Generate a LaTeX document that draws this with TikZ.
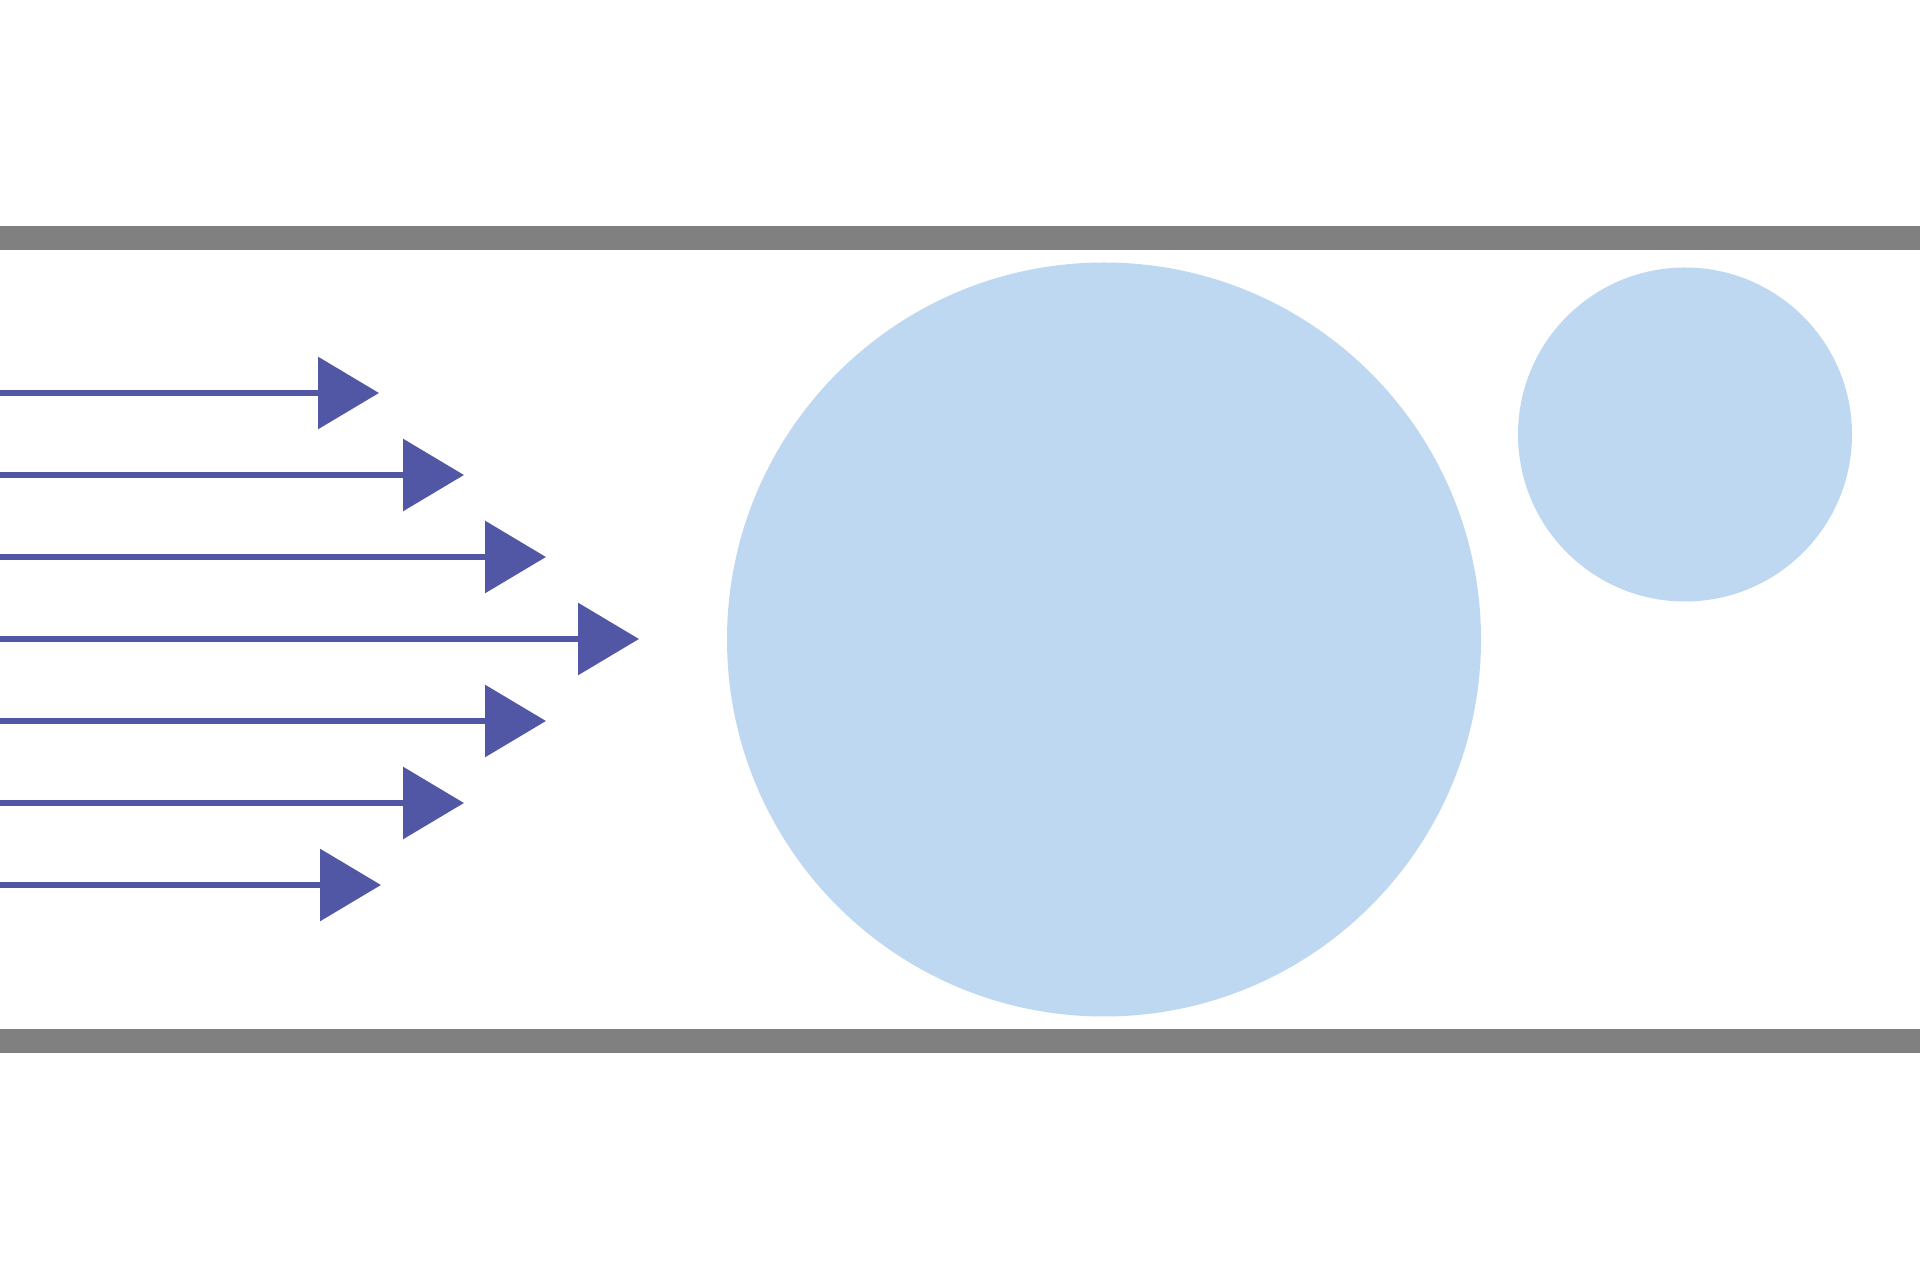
\documentclass[tikz,border=0pt]{standalone}
\usepackage{xcolor}
\usetikzlibrary{arrows.meta}
\definecolor{flow}{RGB}{82,87,165}
\definecolor{bubble}{RGB}{190,216,241}
\definecolor{wall}{RGB}{128,128,128}
\tikzstyle{bubble}=[circle, inner sep=0pt, fill=bubble]
\tikzset{wall/.style={line width=0.24cm, color=wall}}
\tikzset{flowline/.style={-{Triangle[length=0.61cm,width=0.71cm]}, line width=0.065cm, color=flow}}

\begin{document}
\begin{tikzpicture}
  \useasboundingbox (0,0) rectangle (19.2,-12.8);
  %% Walls of the channel
  \draw[wall] (0,-2.385) -- (19.2,-2.385);
  \draw[wall] (0,-10.41) -- (19.2,-10.41);

  %% Bubbles
  \draw (11.04,-6.395) node[bubble,minimum size=7.54cm] (B1) {};
  \draw (16.85,-4.345) node[bubble,minimum size=3.34cm] (B2) {};

  %% Inflow profile
  \coordinate (S1) at (0,-3.93);
  \coordinate (S2) at (0,-4.75);
  \coordinate (S3) at (0,-5.57);
  \coordinate (S4) at (0,-6.39);
  \coordinate (S5) at (0,-7.21);
  \coordinate (S6) at (0,-8.03);
  \coordinate (S7) at (0,-8.85);

  \coordinate (T1) at (3.79,-3.93);
  \coordinate (T2) at (4.64,-4.75);
  \coordinate (T3) at (5.46,-5.57);
  \coordinate (T4) at (6.39,-6.39);
  \coordinate (T5) at (5.46,-7.21);
  \coordinate (T6) at (4.64,-8.03);
  \coordinate (T7) at (3.81,-8.85);

  \draw[flowline] (S1) -- (T1);
  \draw[flowline] (S2) -- (T2);
  \draw[flowline] (S3) -- (T3);
  \draw[flowline] (S4) -- (T4);
  \draw[flowline] (S5) -- (T5);
  \draw[flowline] (S6) -- (T6);
  \draw[flowline] (S7) -- (T7);
\end{tikzpicture}
\end{document}
